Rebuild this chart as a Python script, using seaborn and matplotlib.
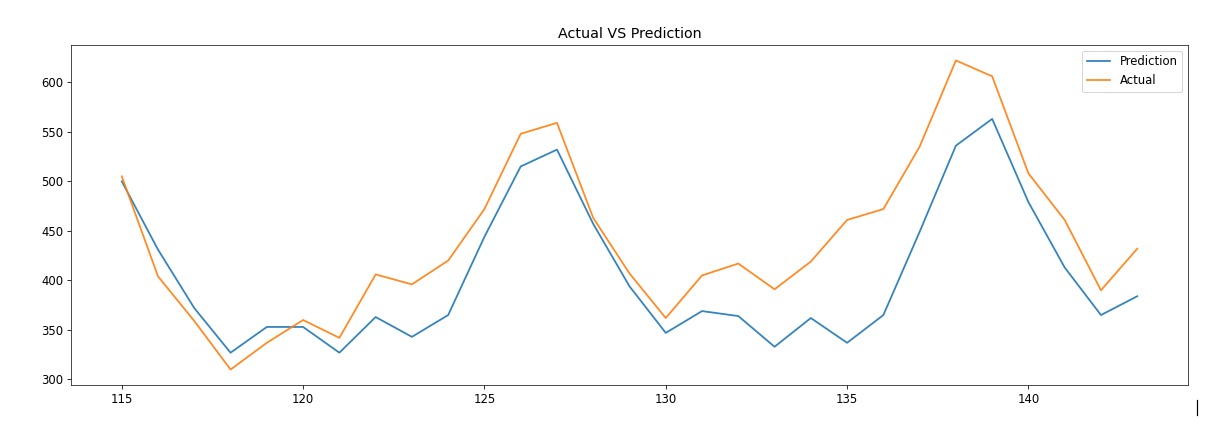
import matplotlib
matplotlib.use("Agg")
import matplotlib.pyplot as plt
from matplotlib.lines import Line2D
import seaborn as sns
import pandas as pd

index = list(range(115, 144))
prediction = [500, 431, 372, 327, 353, 353, 327, 363, 343, 365,
              444, 515, 532, 457, 394, 347, 369, 364, 333, 362,
              337, 365, 449, 536, 563, 479, 413, 365, 384]
actual = [505, 404, 359, 310, 337, 360, 342, 406, 396, 420,
          472, 548, 559, 463, 407, 362, 405, 417, 391, 419,
          461, 472, 535, 622, 606, 508, 461, 390, 432]

df = pd.DataFrame({"idx": index, "Prediction": prediction, "Actual": actual})

plt.rcParams["font.size"] = 11.6
plt.rcParams["axes.edgecolor"] = "#222222"

fig, ax = plt.subplots(figsize=(1228 / 72, 427 / 72), dpi=72)
fig.subplots_adjust(left=71 / 1228, right=1188 / 1228, top=1 - 45 / 427, bottom=1 - 385 / 427)

sns.lineplot(data=df, x="idx", y="Prediction", ax=ax, color="#1f77b4", label="Prediction",
             linewidth=1.8, alpha=0.9)
sns.lineplot(data=df, x="idx", y="Actual", ax=ax, color="#ff7f0e", label="Actual",
             linewidth=1.8, alpha=0.9)

ax.set_xlabel("")
ax.set_ylabel("")
ax.tick_params(labelsize=11.6, length=4.2)
ax.set_title("Actual VS Prediction", fontsize=14.2, pad=7)
ax.legend(loc="upper right", fontsize=11.6)

fig.add_artist(Line2D([1197 / 1228, 1197 / 1228], [1 - 400 / 427, 1 - 415 / 427], color="black", linewidth=1.2))

fig.savefig("out.png", dpi=72)
